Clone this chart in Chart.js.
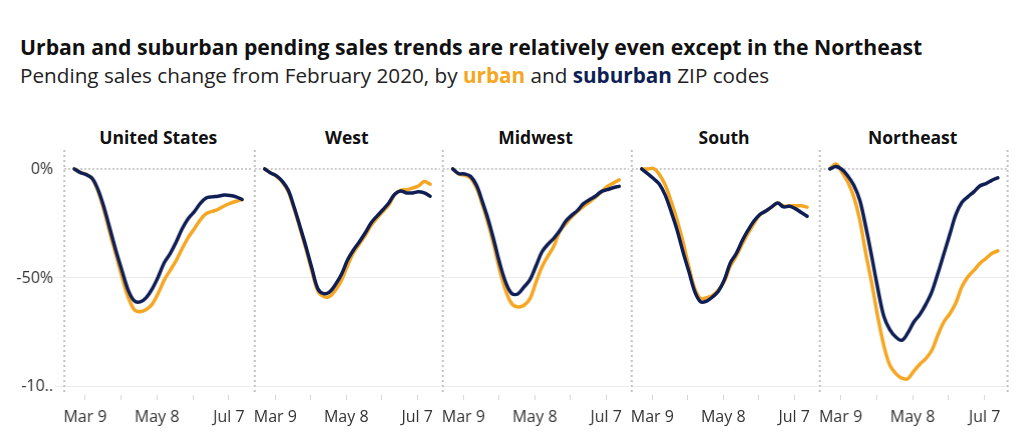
<!DOCTYPE html>
<html>
<head>
<meta charset="utf-8">
<script src="https://cdn.jsdelivr.net/npm/chart.js@4.4.1/dist/chart.umd.min.js"></script>
<style>
  body { margin: 0; width: 1024px; height: 448px; background: #fff; font-family: "Open Sans", sans-serif; position: relative; overflow: hidden; }
  .title { position: absolute; left: 20px; top: 32px; font-size: 21.2px; font-weight: 700; color: #111; white-space: nowrap; }
  .subtitle { position: absolute; left: 20px; top: 61px; font-size: 20.7px; color: #222; white-space: nowrap; }
  .urban { color: #f5a623; font-weight: 700; }
  .suburban { color: #0f1f55; font-weight: 700; }
  .ptitle { position: absolute; top: 125px; font-size: 17.5px; font-weight: 700; color: #111; text-align: center; }
  .box { position: absolute; top: 145px; height: 285px; }
</style>
</head>
<body>
<div class="title">Urban and suburban pending sales trends are relatively even except in the Northeast</div>
<div class="subtitle">Pending sales change from February 2020, by <span class="urban">urban</span> and <span class="suburban">suburban</span> ZIP codes</div>
<div id="wrap"></div>
<script>
// days counted from Mar 9, 2020
const days = [-9, -4, 1, 6, 11, 16, 21, 26, 31, 36, 41, 46, 51, 56, 61, 66, 71, 76, 81, 86, 91, 96, 101, 106, 111, 116, 121, 126, 131];

const regions = ['United States', 'West', 'Midwest', 'South', 'Northeast'];

const usUrban = [0, -1.5, -2.5, -4.5, -10.5, -19.5, -30, -40, -50, -59, -64.5, -65.5, -64.5, -62, -57, -51, -46.5, -42, -36.5, -31.5, -27.5, -23.5, -20.5, -19.5, -18.5, -17, -15.8, -14.8, -14];
const usSuburban = [0, -1.7, -2.6, -4.4, -9.8, -18, -28, -38, -47, -55.7, -60.5, -61, -59, -55, -49.5, -43, -38.8, -33.5, -27.4, -22.8, -19.7, -15.9, -13.3, -12.8, -12.5, -12, -12.2, -12.8, -14];
const westUrban = [0, -1.8, -3.4, -6.1, -10.5, -18.5, -27.5, -37, -47, -56, -58.5, -58.5, -55.5, -51, -44.5, -38.5, -34.5, -30.5, -26, -22.5, -19.5, -16.5, -11.8, -9.8, -9.5, -8.8, -7.8, -5.8, -7];
const westSuburban = [0, -1.8, -3.2, -5.7, -9.8, -17.7, -26.6, -35.8, -45.7, -54.9, -57.2, -56.4, -52.9, -48.3, -41.9, -37.3, -33.5, -29.4, -24.8, -21.6, -18.7, -15.6, -11.6, -10.1, -11, -11, -10.5, -11, -12.5];
const midUrban = [0, -2.3, -2.8, -4.2, -8.8, -16.5, -25.5, -36, -47.5, -56.5, -62, -63.3, -62.5, -59.5, -52, -45, -40, -35.5, -28.5, -25.2, -22, -19.5, -17.2, -15.2, -13, -10.5, -8, -6.5, -5];
const midSuburban = [0, -2.1, -2.3, -3.4, -7.5, -15.1, -23.5, -33.5, -44.2, -52.6, -57.3, -57.2, -54.1, -50.8, -44.5, -38.1, -34.6, -31.8, -28.4, -24, -21.3, -19, -15.9, -14.1, -12.5, -10.4, -9.5, -8.6, -8];
const southUrban = [0, 0, 0.2, -2.5, -7.5, -15, -23.5, -33.5, -45, -55, -59.5, -59, -58, -55.5, -51.5, -44.5, -40, -34.5, -29.5, -25, -21, -19.3, -17.5, -15.6, -17, -16.9, -16.9, -16.9, -17.5];
const southSuburban = [0, -2.1, -4.4, -7, -12.1, -19.7, -28.1, -38.1, -47.2, -56.4, -61, -60.6, -58.7, -56, -50.8, -43.1, -38.8, -33, -28.1, -23.9, -20.9, -19.3, -17.4, -15.6, -17.4, -17.1, -18.2, -20, -21.7];
const neUrban = [0, 2.3, -1.4, -6, -12.8, -23.5, -38.8, -52.6, -67.9, -81, -90, -93.9, -96, -96.2, -92.7, -89.6, -87, -83.2, -76.3, -70.2, -66.4, -61.5, -54.1, -49.5, -46.5, -43.4, -41.1, -38.8, -37.6];
const neSuburban = [0, 1.1, -0.2, -3.2, -7.5, -14.4, -26.6, -40.4, -54.9, -67.6, -73.7, -77.1, -78.6, -75.2, -70.2, -66.8, -62.1, -56.4, -48, -39, -30, -21, -15.4, -12.8, -10.5, -7.8, -6.7, -5.2, -4.1];

const urbanSeries = [usUrban, westUrban, midUrban, southUrban, neUrban];
const suburbanSeries = [usSuburban, westSuburban, midSuburban, southSuburban, neSuburban];

const xTicks = [0, 30, 60, 90, 120];
const xLabels = ['Mar 9', '', 'May 8', '', 'Jul 7'];
const yTicks = [-100, -50, 0];
const yLabels = ['-10..', '-50%', '0%'];

const URBAN = '#f5a623';
const SUBURBAN = '#0f1f55';

// dotted separators and the 0% reference line
const decor = {
  id: 'decor',
  beforeDatasetsDraw(chart, args, opts) {
    const { ctx, chartArea: a, scales: { y } } = chart;
    ctx.save();
    ctx.strokeStyle = '#c2c2c2';
    ctx.lineWidth = 2;
    ctx.setLineDash([2, 3]);
    const xs = opts.last ? [a.left, a.right] : [a.left];
    xs.forEach(x => {
      ctx.beginPath();
      ctx.moveTo(x, a.top);
      ctx.lineTo(x, a.bottom - 2);
      ctx.stroke();
    });
    const y0 = y.getPixelForValue(0);
    ctx.strokeStyle = '#9a9a9a';
    ctx.lineWidth = 1;
    ctx.setLineDash([2, 2]);
    ctx.beginPath();
    ctx.moveTo(a.left, y0);
    ctx.lineTo(a.right, y0);
    ctx.stroke();
    ctx.restore();
  }
};

const left0 = 64, panelW = 188.6;
const wrap = document.getElementById('wrap');

regions.forEach((name, i) => {
  const first = i === 0, last = i === regions.length - 1;
  const areaLeft = left0 + i * panelW;

  const t = document.createElement('div');
  t.className = 'ptitle';
  t.style.left = areaLeft + 'px';
  t.style.width = panelW + 'px';
  t.textContent = name;
  wrap.appendChild(t);

  const box = document.createElement('div');
  box.className = 'box';
  const boxLeft = first ? 0 : areaLeft;
  box.style.left = boxLeft + 'px';
  box.style.width = (areaLeft + panelW - boxLeft + (last ? 2 : 0)) + 'px';
  const cv = document.createElement('canvas');
  box.appendChild(cv);
  wrap.appendChild(box);

  new Chart(cv, {
    type: 'line',
    data: {
      labels: days,
      datasets: [
        { label: 'suburban', data: suburbanSeries[i], borderColor: SUBURBAN },
        { label: 'urban', data: urbanSeries[i], borderColor: URBAN }
      ]
    },
    options: {
      responsive: true,
      maintainAspectRatio: false,
      animation: false,
      layout: { padding: { top: 5, right: last ? 2 : 0, left: 0, bottom: 0 } },
      elements: {
        point: { radius: 0 },
        line: { borderWidth: 3.5, tension: 0.35, borderCapStyle: 'round', borderJoinStyle: 'round' }
      },
      plugins: {
        legend: { display: false },
        tooltip: { enabled: false },
        decor: { last }
      },
      scales: {
        x: {
          type: 'linear',
          min: -17.4,
          max: 139.2,
          afterBuildTicks: s => { s.ticks = xTicks.map(v => ({ value: v })); },
          afterFit: s => { s.height = 35; s.paddingLeft = 0; s.paddingRight = 0; },
          ticks: {
            autoSkip: false,
            maxRotation: 0,
            padding: 8,
            color: '#333',
            font: { family: 'Open Sans', size: 16 },
            callback: v => xLabels[xTicks.indexOf(v)] ?? ''
          },
          grid: { drawOnChartArea: false, drawTicks: true, tickLength: 5, tickColor: '#d6d6d6' },
          border: { display: false }
        },
        y: {
          min: -103.7,
          max: 8.7,
          afterBuildTicks: s => { s.ticks = yTicks.map(v => ({ value: v })); },
          afterFit: s => { s.width = first ? left0 : 0; s.paddingTop = 0; s.paddingBottom = 0; },
          ticks: {
            display: first,
            padding: 2,
            color: '#333',
            font: { family: 'Open Sans', size: 16 },
            callback: v => yLabels[yTicks.indexOf(v)] ?? ''
          },
          grid: {
            color: c => (c.tick && c.tick.value === 0) ? 'rgba(0,0,0,0)' : '#ebebeb',
            drawTicks: first,
            tickLength: 9
          },
          border: { display: false }
        }
      }
    },
    plugins: [decor]
  });
});
</script>
</body>
</html>
